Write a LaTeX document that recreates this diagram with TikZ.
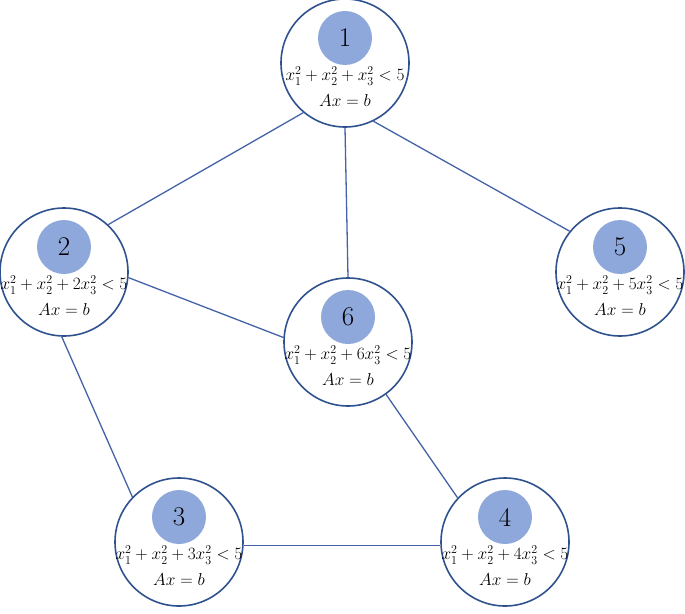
\documentclass[tikz,border=0pt]{standalone}
\definecolor{ringblue}{RGB}{47,82,143}
\definecolor{linkblue}{RGB}{68,98,168}
\definecolor{badgeblue}{RGB}{143,168,220}
\begin{document}
\begin{tikzpicture}[x=1pt, y=-1pt,
  vertex/.style={circle, draw=ringblue, line width=1.6pt, minimum size=128pt, inner sep=0pt},
  badge/.style={circle, fill=badgeblue, minimum size=54pt, inner sep=0pt, font=\fontsize{27}{30}\selectfont},
  cond/.style={inner sep=0pt, font=\fontsize{16.5}{18}\selectfont},
  link/.style={draw=linkblue, line width=1.3pt}]
  \useasboundingbox (0,0) rectangle (685,613);
  % subproblems
  \foreach \i/\x/\y/\k in {1/345/63/{}, 2/64/272/2, 3/179/542/3, 4/505/542/4, 5/620/272/5, 6/348/342/6}
  {
    \node[vertex] (c\i) at (\x,\y) {};
    \node[badge] (b\i) at (\x,{\y-25}) {\i};
    \node[cond] (f\i) at (\x,{\y+13}) {$x_1^2+x_2^2+\k x_3^2<5$};
    \node[cond] (a\i) at (\x,{\y+37}) {$Ax=b$};
  }
  % links
  \draw[link] (c1.230) -- (c2.47);
  \draw[link] (c1.-64) -- (c5.141);
  \draw[link] (c1.south) -- (c6.north);
  \draw[link] (c2.-5) -- (c6.176);
  \draw[link] (c2.-92) -- (c3.136);
  \draw[link] (c6.-54) -- (c4.137);
  \draw[link] (c3.-3) -- (c4.183);
\end{tikzpicture}
\end{document}
